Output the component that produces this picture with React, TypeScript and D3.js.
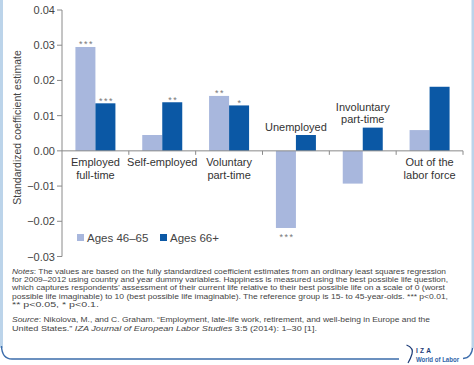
import React from "react";
import * as d3 from "d3";

const categories = ["Employed full-time", "Self-employed", "Voluntary part-time", "Unemployed", "Involuntary part-time", "Out of the labor force"];
const categoryLines = [["Employed", "full-time"], ["Self-employed"], ["Voluntary", "part-time"], ["Unemployed"], ["Involuntary", "part-time"], ["Out of the", "labor force"]];
const labelAbove = [false, false, false, true, true, false];
const ages4665 = [0.0295, 0.0045, 0.0156, -0.0219, -0.0093, 0.0059];
const ages66 = [0.0135, 0.0138, 0.0129, 0.0045, 0.0066, 0.0182];
const stars4665 = ["***", "", "**", "***", "", ""];
const stars66 = ["***", "**", "*", "", "", ""];
const yTicks = [0.04, 0.03, 0.02, 0.01, 0, -0.01, -0.02, -0.03];
const seriesNames = ["Ages 46–65", "Ages 66+"];

const LIGHT = "#a8b7dd";
const DARK = "#0b58a5";
const FONT = "'Liberation Sans', Arial, sans-serif";

export default function App() {
  const W = 474, H = 365;
  const x = d3.scaleBand<string>().domain(categories).range([62, 463]).padding(0);
  const sub = d3.scaleBand<string>().domain(["a", "b"]).range([0, 40]).padding(0);
  const y = d3.scaleLinear().domain([-0.03, 0.04]).range([256.5, 10]);
  const y0 = y(0);
  const fmt = d3.format(".2f");
  const barX = (i: number) => (x(categories[i]) as number) + x.bandwidth() / 2 - 20;

  const series = [
    { vals: ages4665, stars: stars4665, color: LIGHT, key: "a" },
    { vals: ages66, stars: stars66, color: DARK, key: "b" },
  ];

  return (
    <svg width={W} height={H} style={{ position: "absolute", left: 0, top: 0, background: "#fff" }} fontFamily={FONT}>
      <rect width={W} height={H} fill="#fff" />
      {/* bars */}
      {series.map((s) =>
        s.vals.map((v, i) => {
          const bx = barX(i) + (sub(s.key) as number);
          const top = Math.min(y(v), y0);
          const h = Math.abs(y(v) - y0);
          return <rect key={s.key + i} x={bx} y={top} width={sub.bandwidth()} height={h} fill={s.color} />;
        })
      )}
      {/* stars */}
      {series.map((s) =>
        s.vals.map((v, i) =>
          s.stars[i] ? (
            <text key={"st" + s.key + i} x={barX(i) + (sub(s.key) as number) + sub.bandwidth() / 2 + 1}
              y={v >= 0 ? y(v) + 0.5 : y(v) + 12.5} textAnchor="middle" fontSize={9} letterSpacing={1.5} fill="#777">
              {s.stars[i]}
            </text>
          ) : null
        )
      )}
      {/* y axis */}
      <line x1={62} x2={62} y1={y(0.04)} y2={y(-0.03)} stroke="#8a8a8a" strokeWidth={1} />
      {yTicks.map((t) => (
        <g key={"yt" + t}>
          <line x1={57} x2={62} y1={y(t)} y2={y(t)} stroke="#8a8a8a" />
          <text x={55} y={y(t) + 4} textAnchor="end" fontSize={11} fill="#444">{fmt(t)}</text>
        </g>
      ))}
      {/* x axis */}
      <line x1={62} x2={463} y1={y0} y2={y0} stroke="#8a8a8a" />
      {categories.map((c) => (
        <line key={"xt" + c} x1={(x(c) as number) + x.bandwidth()} x2={(x(c) as number) + x.bandwidth()} y1={y0} y2={y0 + 4} stroke="#8a8a8a" />
      ))}
      {/* category labels */}
      {categories.map((c, i) => {
        const cx = (x(c) as number) + x.bandwidth() / 2;
        const lines = categoryLines[i];
        const base = labelAbove[i] ? (lines.length === 1 ? 131 : 111) : 166;
        const step = labelAbove[i] ? 11.5 : 13;
        return (
          <text key={"cl" + c} x={cx} textAnchor="middle" fontSize={11} fill="#333">
            {lines.map((l, j) => (
              <tspan key={j} x={cx} y={base + j * step}>{l}</tspan>
            ))}
          </text>
        );
      })}
      {/* y title */}
      <text transform={`translate(20.5,127.5) rotate(-90)`} textAnchor="middle" fontSize={10.5} fill="#444">
        Standardized coefficient estimate
      </text>
      {/* legend */}
      <rect x={77} y={234} width={7} height={7} fill={LIGHT} />
      <text x={87} y={241.5} fontSize={11.5} fill="#444">{seriesNames[0]}</text>
      <rect x={160} y={234} width={7} height={7} fill={DARK} />
      <text x={170} y={241.5} fontSize={11.5} fill="#444">{seriesNames[1]}</text>
      {/* notes */}
      <g fontSize={8} fill="#444">
        <text x={12} y={273.5} textLength={434} lengthAdjust="spacingAndGlyphs"><tspan fontStyle="italic">Notes</tspan>: The values are based on the fully standardized coefficient estimates from an ordinary least squares regression</text>
        <text x={12} y={282} textLength={436} lengthAdjust="spacingAndGlyphs">for 2009–2012 using country and year dummy variables. Happiness is measured using the best possible life question,</text>
        <text x={12} y={290.3} textLength={433} lengthAdjust="spacingAndGlyphs">which captures respondents’ assessment of their current life relative to their best possible life on a scale of 0 (worst</text>
        <text x={12} y={298.6} textLength={436} lengthAdjust="spacingAndGlyphs">possible life imaginable) to 10 (best possible life imaginable). The reference group is 15- to 45-year-olds. *** p&lt;0.01,</text>
        <text x={12} y={306.9} textLength={87} lengthAdjust="spacingAndGlyphs">** p&lt;0.05, * p&lt;0.1.</text>
        <text x={12} y={322.3} textLength={418} lengthAdjust="spacingAndGlyphs"><tspan fontStyle="italic">Source</tspan>: Nikolova, M., and C. Graham. “Employment, late-life work, retirement, and well-being in Europe and the</text>
        <text x={12} y={330.6} textLength={305} lengthAdjust="spacingAndGlyphs">United States.” <tspan fontStyle="italic">IZA Journal of European Labor Studies</tspan> 3:5 (2014): 1–30 [1].</text>
      </g>
      {/* frame */}
      <path d="M1.5,0 L1.5,348" stroke="#bcd4ea" strokeWidth={3} fill="none" />
      <path d="M1.5,346 Q2,359 12,359 L399,359" stroke="#3b6cab" strokeWidth={1.4} fill="none" />
      <path d="M463,358.5 Q472,358 472.8,346" stroke="#3b6cab" strokeWidth={1.4} fill="none" />
      <path d="M472.8,0 L472.8,348" stroke="#bcd4ea" strokeWidth={2.6} fill="none" />
      {/* IZA logo */}
      <path d="M406.5,345 Q414,348 412,354 Q410.5,359 408,363" stroke="#1d3c78" strokeWidth={1.2} fill="none" />
      <text x={416} y={353} fontSize={6.5} fontWeight="bold" letterSpacing={2.2} fill="#1d3c78">IZA</text>
      <text x={416} y={361.5} fontSize={6.3} fontWeight="bold" textLength={43} lengthAdjust="spacingAndGlyphs" fill="#2f64a8">World of Labor</text>
    </svg>
  );
}
